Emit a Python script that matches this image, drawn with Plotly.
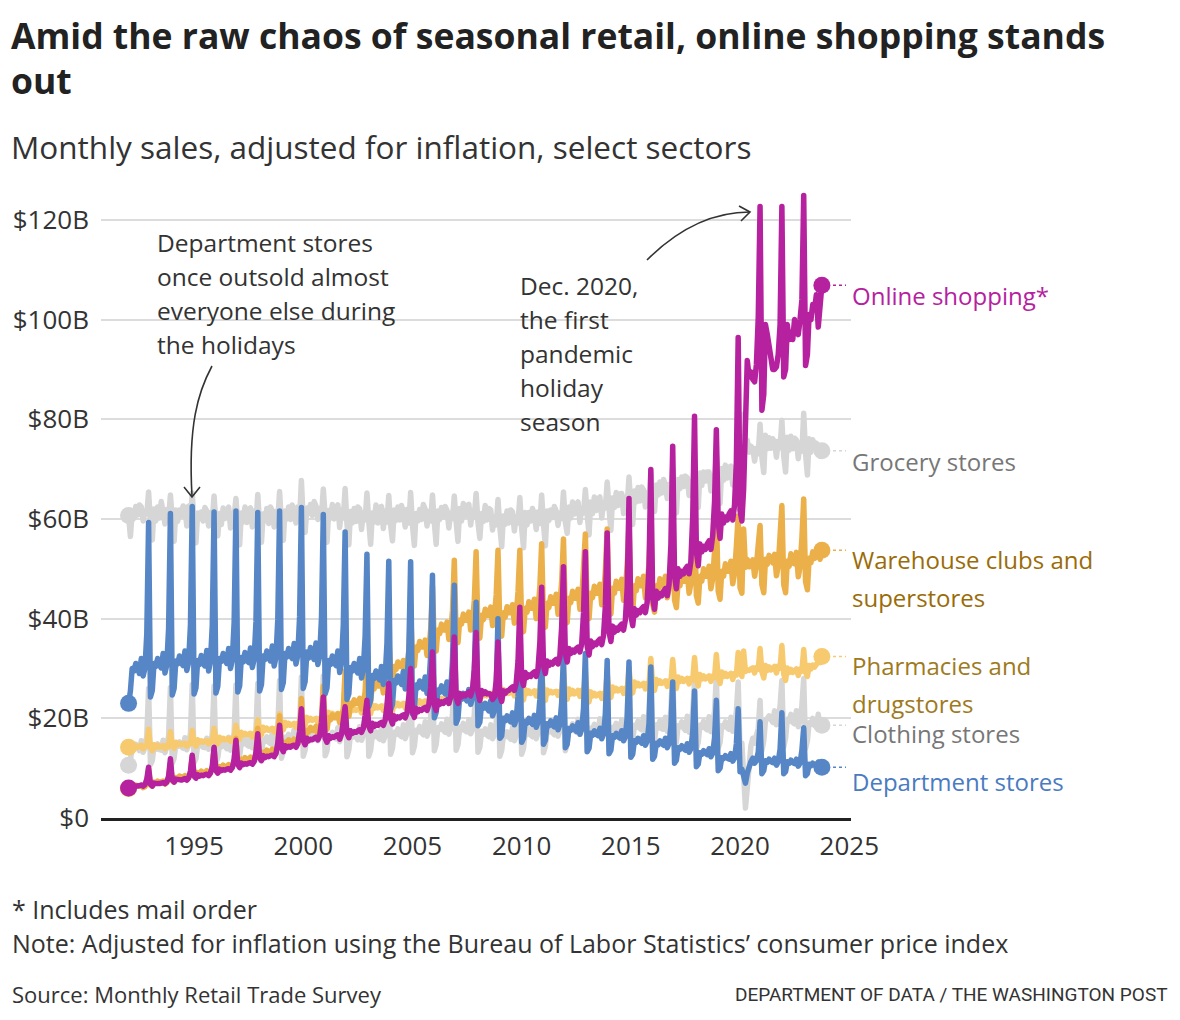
import plotly.graph_objects as go
import pandas as pd

months = pd.date_range("1992-01-01", "2023-10-01", freq="MS")

online = [
 6.0, 5.9, 6.5, 6.3, 6.4, 6.4, 6.5, 6.6, 6.4, 6.7, 7.8, 10.2,
 6.8, 6.4, 7.0, 6.8, 6.9, 6.9, 7.0, 7.1, 6.9, 7.2, 8.4, 11.9,
 7.6, 7.2, 7.8, 7.6, 7.7, 7.6, 7.8, 7.9, 7.6, 8.0, 9.4, 12.6,
 8.4, 8.0, 8.7, 8.4, 8.6, 8.5, 8.7, 8.8, 8.5, 9.0, 10.4, 14.2,
 9.5, 9.0, 9.8, 9.5, 9.7, 9.6, 9.8, 9.9, 9.6, 10.1, 11.8, 15.6,
 10.7, 10.1, 11.0, 10.7, 10.9, 10.8, 11.0, 11.1, 10.8, 11.3, 13.2, 16.9,
 12.1, 11.5, 12.5, 12.1, 12.4, 12.3, 12.5, 12.6, 12.3, 12.9, 15.0, 18.6,
 14.1, 13.3, 14.5, 14.1, 14.4, 14.2, 14.5, 14.6, 14.2, 14.9, 17.4, 21.9,
 15.5, 14.7, 16.0, 15.5, 15.8, 15.7, 16.0, 16.2, 15.7, 16.5, 19.2, 24.3,
 16.0, 15.2, 16.5, 16.0, 16.3, 16.2, 16.5, 16.7, 15.8, 16.8, 19.6, 22.3,
 17.0, 16.1, 17.5, 17.0, 17.3, 17.2, 17.5, 17.7, 17.2, 18.0, 20.6, 23.6,
 18.4, 17.5, 19.0, 18.4, 18.8, 18.6, 19.0, 19.2, 18.6, 19.6, 22.5, 27.0,
 19.9, 18.9, 20.5, 19.9, 20.3, 20.1, 20.5, 20.7, 20.1, 21.1, 24.4, 30.0,
 21.3, 20.2, 22.0, 21.3, 21.8, 21.6, 22.0, 22.2, 21.6, 22.7, 26.2, 33.3,
 22.8, 21.6, 23.5, 22.8, 23.3, 23.0, 23.5, 23.7, 23.0, 24.2, 28.2, 36.3,
 24.3, 23.0, 25.0, 24.3, 24.8, 24.5, 25.0, 25.3, 24.5, 25.8, 29.8, 37.2,
 25.2, 23.6, 25.6, 24.9, 25.3, 24.9, 25.0, 24.8, 23.8, 24.3, 27.5, 35.3,
 24.6, 23.4, 25.5, 25.0, 25.5, 25.6, 26.0, 26.3, 25.6, 27.0, 31.5, 42.3,
 27.9, 26.6, 29.2, 28.2, 28.7, 28.4, 29.0, 29.3, 28.4, 29.9, 35.2, 46.3,
 30.6, 29.0, 31.5, 30.6, 31.2, 30.9, 31.5, 31.8, 30.9, 32.4, 38.4, 50.4,
 33.0, 31.3, 34.0, 33.0, 33.7, 33.3, 34.0, 34.3, 33.3, 35.0, 41.2, 53.4,
 34.4, 32.7, 35.5, 34.4, 35.1, 34.8, 35.5, 35.9, 34.8, 36.6, 42.6, 57.2,
 37.3, 35.4, 38.5, 37.3, 38.1, 37.7, 38.5, 38.9, 37.7, 39.7, 46.2, 64.1,
 40.7, 38.6, 42.0, 40.7, 41.6, 41.2, 42.0, 42.4, 41.2, 43.3, 50.5, 69.9,
 44.1, 41.9, 45.5, 44.1, 45.0, 44.6, 45.5, 46.0, 44.6, 46.9, 54.9, 74.6,
 48.5, 46.0, 50.0, 48.5, 49.5, 49.0, 50.0, 50.5, 49.0, 51.5, 60.5, 80.6,
 53.4, 50.6, 55.0, 53.4, 54.5, 53.9, 55.0, 55.6, 53.9, 56.7, 63.5, 77.9,
 59.2, 56.1, 61.0, 59.2, 60.4, 59.8, 61.0, 61.6, 59.8, 62.8, 71.5, 96.4,
 61.7, 59.6, 66.0, 82.0, 91.8, 88.5, 89.5, 88.0, 87.5, 91.0, 100.5, 122.7,
 81.8, 85.0, 99.0, 97.0, 95.0, 92.0, 90.0, 90.0, 90.5, 93.0, 99.0, 122.7,
 88.5, 90.0, 99.0, 96.0, 97.5, 96.0, 100.0, 98.0, 97.0, 100.0, 104.0, 124.9,
 90.8, 93.0, 101.0, 100.0, 103.0, 102.0, 105.0, 98.5, 104.0, 106.9,
]

grocery = [
 60.7, 56.5, 61.5, 60.2, 62.5, 60.8, 62.8, 62.4, 59.6, 61.6, 61.0, 65.4,
 59.4, 55.8, 62.0, 59.6, 62.4, 60.2, 63.5, 61.6, 59.0, 61.9, 60.1, 64.8,
 59.6, 55.5, 61.8, 59.5, 61.8, 60.6, 62.6, 62.1, 58.6, 62.6, 59.8, 65.2,
 58.8, 55.2, 61.2, 60.1, 61.4, 59.6, 62.3, 61.6, 58.6, 61.3, 59.6, 64.6,
 59.2, 56.6, 61.1, 58.9, 62.2, 60.1, 61.4, 62.4, 58.2, 61.1, 60.5, 64.1,
 58.7, 54.8, 61.2, 59.4, 62.4, 59.3, 61.9, 62.2, 58.4, 61.6, 59.3, 64.9,
 58.9, 55.3, 61.0, 59.6, 62.1, 59.1, 62.4, 61.6, 58.4, 61.5, 59.7, 65.5,
 59.1, 55.7, 61.6, 60.0, 62.4, 59.9, 62.8, 61.5, 59.2, 62.4, 60.1, 67.7,
 59.3, 57.3, 62.2, 61.1, 62.9, 60.7, 63.5, 62.6, 59.9, 62.1, 60.5, 66.0,
 59.6, 55.3, 61.7, 60.2, 62.9, 60.0, 62.3, 62.8, 58.3, 61.9, 60.2, 66.1,
 59.0, 54.8, 61.5, 59.2, 62.1, 59.5, 62.4, 62.0, 57.9, 61.3, 59.8, 65.2,
 59.4, 54.9, 61.2, 59.4, 62.8, 59.2, 62.3, 62.5, 58.1, 61.6, 59.4, 64.7,
 58.7, 55.6, 61.8, 59.7, 62.4, 59.8, 62.7, 61.4, 58.4, 61.9, 59.2, 65.3,
 58.6, 54.7, 61.1, 59.6, 61.9, 59.9, 62.9, 61.9, 58.6, 61.5, 59.6, 64.8,
 59.2, 54.9, 61.6, 59.9, 62.3, 60.4, 62.5, 61.7, 58.2, 61.2, 60.1, 64.6,
 59.4, 55.5, 62.1, 59.6, 63.1, 60.6, 62.6, 62.9, 58.8, 61.7, 60.4, 65.1,
 59.3, 56.1, 61.1, 59.5, 62.7, 59.8, 62.1, 61.8, 57.8, 60.4, 58.8, 63.9,
 58.4, 54.4, 60.6, 58.9, 61.6, 59.2, 61.8, 61.4, 57.6, 60.5, 59.2, 64.3,
 58.1, 54.2, 61.3, 58.8, 61.3, 59.6, 62.1, 60.9, 57.9, 61.4, 59.1, 64.8,
 58.9, 54.6, 61.6, 59.7, 61.8, 60.3, 62.5, 61.6, 58.7, 61.2, 60.1, 65.4,
 59.4, 57.1, 62.4, 60.2, 63.4, 61.0, 62.8, 63.4, 59.3, 62.2, 61.2, 65.9,
 60.9, 56.8, 63.4, 61.1, 64.4, 61.7, 64.1, 64.4, 60.2, 63.3, 62.2, 67.4,
 62.1, 57.7, 64.2, 62.3, 65.3, 62.7, 65.0, 65.1, 61.1, 64.4, 62.9, 68.4,
 62.7, 58.9, 65.6, 63.4, 66.3, 63.6, 66.4, 65.8, 62.4, 65.3, 63.8, 69.2,
 64.2, 61.5, 66.8, 64.8, 67.4, 65.2, 67.9, 66.9, 64.1, 66.9, 65.3, 70.6,
 65.3, 61.2, 67.9, 66.1, 68.4, 66.5, 68.6, 68.3, 64.7, 67.5, 66.4, 71.8,
 66.4, 62.3, 69.2, 66.7, 69.4, 67.6, 69.4, 69.4, 65.6, 68.7, 67.6, 72.9,
 67.6, 63.1, 70.1, 67.8, 70.8, 68.2, 70.4, 70.6, 66.8, 69.6, 68.4, 73.9,
 68.6, 66.9, 81.0, 74.2, 75.8, 73.4, 74.6, 74.1, 71.6, 74.2, 73.1, 79.0,
 72.3, 69.3, 76.8, 74.1, 76.3, 74.2, 76.1, 75.4, 72.4, 75.6, 74.3, 79.8,
 72.6, 69.4, 76.4, 73.8, 76.6, 74.1, 76.2, 75.8, 72.1, 75.3, 73.6, 81.2,
 73.1, 68.8, 76.1, 73.4, 75.9, 74.3, 75.2, 74.6, 72.6, 73.7,
]

warehouse = [
 5.9, 5.7, 6.4, 6.2, 6.6, 6.4, 6.4, 6.6, 6.1, 6.3, 7.0, 9.8,
 6.6, 6.4, 7.2, 7.0, 7.4, 7.2, 7.2, 7.4, 6.8, 7.1, 7.9, 11.0,
 7.5, 7.2, 8.1, 8.0, 8.4, 8.1, 8.1, 8.5, 7.7, 8.1, 9.0, 12.5,
 8.4, 8.1, 9.1, 8.9, 9.4, 9.1, 9.1, 9.5, 8.6, 9.0, 10.0, 14.0,
 9.5, 9.1, 10.3, 10.1, 10.6, 10.3, 10.3, 10.7, 9.8, 10.2, 11.3, 16.0,
 10.8, 10.4, 11.8, 11.5, 12.1, 11.8, 11.8, 12.2, 11.2, 11.6, 13.0, 18.0,
 12.2, 11.7, 13.2, 13.0, 13.6, 13.2, 13.2, 13.8, 12.6, 13.1, 14.6, 20.5,
 14.0, 13.5, 15.2, 14.9, 15.7, 15.2, 15.2, 15.8, 14.4, 15.0, 16.7, 24.0,
 16.2, 15.7, 17.6, 17.3, 18.2, 17.6, 17.6, 18.4, 16.7, 17.5, 19.4, 26.5,
 18.5, 17.8, 20.1, 19.7, 20.7, 20.1, 20.1, 20.9, 19.1, 19.9, 22.1, 29.5,
 21.2, 20.4, 23.0, 22.6, 23.7, 23.0, 23.0, 24.0, 21.9, 22.8, 25.4, 33.0,
 24.3, 23.5, 26.5, 25.9, 27.3, 26.5, 26.5, 27.5, 25.1, 26.2, 29.2, 37.0,
 27.9, 27.0, 30.4, 29.8, 31.3, 30.4, 30.4, 31.6, 28.8, 30.1, 33.5, 41.5,
 31.5, 30.5, 34.3, 33.6, 35.4, 34.3, 34.3, 35.7, 32.6, 34.0, 37.8, 46.5,
 34.7, 33.5, 37.7, 37.0, 38.9, 37.7, 37.7, 39.3, 35.8, 37.3, 41.6, 51.7,
 36.5, 35.2, 39.7, 38.9, 40.9, 39.7, 39.7, 41.3, 37.7, 39.3, 43.7, 53.4,
 37.4, 36.1, 40.7, 39.8, 41.9, 40.7, 40.7, 42.3, 38.6, 40.3, 44.8, 53.7,
 37.8, 36.5, 41.2, 40.3, 42.4, 41.2, 41.2, 42.8, 39.1, 40.7, 45.4, 53.7,
 38.7, 37.4, 42.1, 41.3, 43.4, 42.1, 42.1, 43.9, 40.0, 41.7, 46.4, 55.0,
 39.6, 38.3, 43.1, 42.2, 44.4, 43.1, 43.1, 44.9, 40.9, 42.7, 47.5, 56.0,
 40.5, 39.2, 44.1, 43.2, 45.5, 44.1, 44.1, 45.9, 41.9, 43.7, 48.6, 57.0,
 41.4, 40.0, 45.1, 44.2, 46.5, 45.1, 45.1, 46.9, 42.8, 44.6, 49.7, 58.0,
 42.3, 40.9, 46.1, 45.1, 47.5, 46.1, 46.1, 47.9, 43.7, 45.6, 50.8, 59.0,
 42.8, 41.3, 46.6, 45.6, 48.0, 46.6, 46.6, 48.5, 44.2, 46.1, 51.3, 59.8,
 42.8, 41.3, 46.6, 45.6, 48.0, 46.6, 46.6, 48.5, 44.2, 46.1, 51.3, 59.6,
 43.7, 42.2, 47.5, 46.6, 49.0, 47.5, 47.5, 49.5, 45.1, 47.0, 52.4, 60.5,
 44.6, 43.1, 48.5, 47.5, 50.0, 48.5, 48.5, 50.5, 46.0, 48.0, 53.5, 61.2,
 45.5, 43.9, 49.5, 48.5, 51.0, 49.5, 49.5, 51.5, 47.0, 49.0, 54.5, 60.6,
 46.2, 45.1, 58.0, 50.3, 51.9, 50.4, 50.6, 51.8, 48.5, 50.6, 54.9, 58.7,
 46.8, 45.2, 51.9, 50.9, 52.7, 51.5, 51.2, 52.9, 48.6, 50.6, 56.2, 62.7,
 46.8, 45.2, 51.5, 50.5, 53.0, 51.2, 51.0, 53.3, 48.4, 50.4, 56.2, 64.0,
 47.4, 45.8, 52.1, 51.2, 53.4, 52.1, 52.4, 53.8, 51.9, 53.7,
]

pharmacies = [
 14.2, 13.5, 14.7, 14.2, 14.5, 14.2, 14.4, 14.6, 13.9, 14.5, 14.4, 17.8,
 14.1, 13.5, 14.7, 14.2, 14.6, 14.2, 14.4, 14.5, 13.9, 14.6, 14.3, 17.3,
 14.5, 14.0, 15.2, 14.7, 15.0, 14.7, 14.9, 15.0, 14.4, 15.0, 14.9, 17.6,
 15.0, 14.4, 15.7, 15.2, 15.5, 15.2, 15.4, 15.5, 14.9, 15.5, 15.3, 18.0,
 15.5, 14.9, 16.2, 15.7, 16.0, 15.7, 15.8, 16.0, 15.4, 16.0, 15.8, 18.6,
 16.5, 15.8, 17.2, 16.7, 17.0, 16.7, 16.8, 17.0, 16.3, 17.0, 16.8, 19.7,
 17.5, 16.7, 18.2, 17.6, 18.0, 17.6, 17.8, 18.0, 17.3, 18.0, 17.8, 20.9,
 18.4, 17.7, 19.2, 18.6, 19.0, 18.6, 18.8, 19.0, 18.2, 19.0, 18.8, 22.0,
 19.4, 18.6, 20.2, 19.6, 20.0, 19.6, 19.8, 20.0, 19.2, 20.0, 19.8, 23.2,
 20.4, 19.5, 21.2, 20.6, 21.0, 20.6, 20.8, 21.0, 20.2, 21.0, 20.8, 24.3,
 21.3, 20.5, 22.2, 21.6, 22.0, 21.6, 21.8, 22.0, 21.1, 22.0, 21.8, 25.4,
 21.8, 20.9, 22.7, 22.0, 22.5, 22.1, 22.3, 22.5, 21.6, 22.5, 22.3, 26.0,
 22.3, 21.4, 23.2, 22.5, 23.0, 22.5, 22.8, 23.0, 22.1, 23.0, 22.8, 26.6,
 22.8, 21.9, 23.7, 23.0, 23.5, 23.0, 23.3, 23.5, 22.6, 23.5, 23.3, 27.2,
 23.3, 22.3, 24.2, 23.5, 24.0, 23.5, 23.8, 24.0, 23.0, 24.0, 23.8, 27.8,
 23.8, 22.8, 24.7, 24.0, 24.5, 24.0, 24.3, 24.5, 23.5, 24.5, 24.3, 28.4,
 24.3, 23.3, 25.3, 24.5, 25.0, 24.5, 24.8, 25.0, 24.0, 25.0, 24.8, 28.6,
 24.7, 23.7, 25.8, 25.0, 25.5, 25.0, 25.2, 25.5, 24.5, 25.5, 25.2, 29.3,
 24.7, 23.7, 25.8, 25.0, 25.5, 25.0, 25.2, 25.5, 24.5, 25.5, 25.2, 29.5,
 24.8, 23.6, 25.7, 25.1, 25.4, 25.1, 25.3, 25.4, 24.6, 25.4, 25.3, 29.6,
 24.6, 23.8, 25.9, 24.9, 25.6, 24.9, 25.1, 25.6, 24.4, 25.6, 25.1, 29.2,
 24.3, 23.3, 25.3, 24.5, 25.0, 24.5, 24.8, 25.0, 24.0, 25.0, 24.8, 29.0,
 25.2, 24.2, 26.3, 25.5, 26.0, 25.5, 25.7, 26.0, 25.0, 26.0, 25.7, 30.2,
 26.2, 25.1, 27.3, 26.5, 27.0, 26.5, 26.7, 27.0, 25.9, 27.0, 26.7, 32.0,
 26.7, 25.6, 27.8, 27.0, 27.5, 27.0, 27.2, 27.5, 26.4, 27.5, 27.2, 31.8,
 27.2, 26.0, 28.3, 27.4, 28.0, 27.4, 27.7, 28.0, 26.9, 28.0, 27.7, 32.2,
 27.6, 26.5, 28.8, 27.9, 28.5, 27.9, 28.2, 28.5, 27.4, 28.5, 28.2, 32.8,
 28.1, 27.0, 29.3, 28.4, 29.0, 28.4, 28.7, 29.0, 27.8, 29.0, 28.7, 33.2,
 29.2, 28.4, 33.5, 29.4, 29.7, 29.6, 29.9, 30.1, 29.1, 30.2, 29.9, 34.0,
 29.3, 28.1, 30.6, 29.6, 30.3, 29.7, 30.0, 30.4, 29.1, 30.5, 30.1, 34.6,
 28.9, 27.6, 30.1, 29.2, 29.8, 29.2, 29.5, 29.9, 28.6, 29.9, 29.5, 33.8,
 29.2, 28.4, 30.6, 29.9, 30.7, 30.3, 30.8, 31.4, 31.2, 32.4,
]

clothing = [
 10.6, 11.6, 14.2, 13.9, 14.8, 13.8, 13.5, 15.5, 13.2, 14.1, 16.4, 26.0,
 10.7, 11.5, 14.3, 13.8, 14.9, 13.7, 13.6, 15.6, 13.1, 14.2, 16.5, 26.2,
 11.0, 12.0, 14.7, 14.4, 15.3, 14.3, 14.0, 16.1, 13.7, 14.6, 17.0, 26.8,
 11.1, 11.9, 14.6, 14.5, 15.2, 14.2, 14.1, 16.0, 13.8, 14.5, 16.9, 26.5,
 11.0, 12.1, 14.8, 14.3, 15.4, 14.4, 13.9, 16.2, 13.6, 14.7, 17.1, 26.7,
 11.3, 12.4, 15.2, 14.9, 15.8, 14.7, 14.4, 16.6, 14.1, 15.0, 17.5, 27.0,
 11.7, 12.8, 15.7, 15.4, 16.3, 15.2, 14.9, 17.1, 14.6, 15.5, 18.1, 27.6,
 12.0, 13.2, 16.2, 15.8, 16.8, 15.7, 15.3, 17.7, 15.0, 16.0, 18.6, 28.3,
 12.4, 13.6, 16.7, 16.3, 17.3, 16.2, 15.8, 18.2, 15.5, 16.5, 19.2, 28.5,
 12.5, 13.5, 16.6, 16.4, 17.2, 16.1, 15.9, 18.1, 15.3, 16.4, 19.1, 28.0,
 12.3, 13.7, 16.8, 16.2, 17.4, 16.3, 15.7, 18.3, 15.6, 16.6, 19.3, 27.8,
 12.4, 13.6, 16.7, 16.3, 17.3, 16.2, 15.8, 18.2, 15.5, 16.5, 19.2, 28.0,
 12.8, 14.0, 17.2, 16.8, 17.9, 16.6, 16.3, 18.7, 15.9, 17.0, 19.8, 28.7,
 13.1, 14.4, 17.6, 17.3, 18.4, 17.1, 16.7, 19.3, 16.4, 17.5, 20.3, 29.4,
 13.5, 14.8, 18.1, 17.8, 18.9, 17.6, 17.2, 19.8, 16.8, 17.9, 20.9, 30.0,
 13.6, 14.7, 18.2, 17.7, 19.0, 17.5, 17.3, 19.7, 16.9, 17.8, 20.8, 29.6,
 13.2, 14.2, 17.4, 16.8, 17.9, 16.6, 16.3, 18.7, 15.9, 16.6, 19.1, 27.6,
 12.4, 13.6, 16.7, 16.3, 17.3, 16.2, 15.8, 18.2, 15.5, 16.5, 19.2, 27.7,
 12.8, 14.0, 17.2, 16.8, 17.9, 16.6, 16.3, 18.7, 15.9, 17.0, 19.8, 28.4,
 13.1, 14.4, 17.6, 17.3, 18.4, 17.1, 16.7, 19.3, 16.4, 17.5, 20.3, 29.0,
 13.5, 14.8, 18.1, 17.8, 18.9, 17.6, 17.2, 19.8, 16.8, 17.9, 20.9, 29.7,
 13.4, 14.9, 18.0, 17.9, 18.8, 17.7, 17.1, 19.9, 16.7, 18.0, 20.8, 29.9,
 13.6, 14.7, 18.2, 17.7, 19.0, 17.5, 17.3, 19.7, 16.9, 17.8, 21.0, 30.0,
 13.9, 15.2, 18.6, 18.2, 19.4, 18.0, 17.7, 20.3, 17.3, 18.4, 21.5, 30.4,
 14.0, 15.1, 18.7, 18.1, 19.5, 17.9, 17.8, 20.2, 17.4, 18.3, 21.6, 30.6,
 13.8, 15.3, 18.5, 18.3, 19.3, 18.1, 17.6, 20.4, 17.2, 18.5, 21.4, 27.3,
 13.9, 15.2, 18.6, 18.2, 19.4, 18.0, 17.7, 20.3, 17.3, 18.4, 21.5, 28.3,
 14.0, 15.1, 18.5, 18.3, 19.3, 18.1, 17.8, 20.2, 17.4, 18.3, 21.4, 27.3,
 13.5, 15.0, 9.0, 2.0, 6.0, 12.0, 14.5, 16.0, 15.0, 16.5, 18.0, 23.6,
 13.5, 15.5, 19.5, 20.0, 20.5, 19.8, 19.2, 21.5, 18.7, 20.0, 22.5, 27.6,
 14.2, 16.0, 19.8, 19.4, 20.8, 19.2, 18.9, 21.5, 18.3, 19.6, 22.6, 28.0,
 13.9, 15.5, 19.1, 18.8, 20.0, 18.6, 18.3, 20.8, 17.9, 18.6,
]

department = [
 23.0, 25.5, 30.0, 29.5, 31.0, 30.0, 29.0, 32.0, 28.5, 30.0, 37.0, 59.3,
 24.3, 25.6, 31.0, 30.4, 32.0, 30.7, 30.1, 33.0, 29.1, 30.7, 38.1, 61.1,
 24.7, 26.0, 31.5, 30.9, 32.5, 31.2, 30.6, 33.5, 29.6, 31.2, 38.7, 62.5,
 24.9, 26.1, 31.6, 30.8, 32.6, 31.1, 30.5, 33.6, 29.5, 31.3, 38.6, 61.4,
 25.1, 26.4, 32.0, 31.4, 33.0, 31.7, 31.0, 34.0, 30.0, 31.7, 39.3, 61.6,
 25.3, 26.5, 32.2, 31.3, 33.2, 31.6, 31.2, 34.1, 30.2, 31.8, 39.4, 61.3,
 25.5, 26.8, 32.5, 31.8, 33.5, 32.2, 31.5, 34.5, 30.5, 32.2, 39.9, 61.6,
 25.8, 27.2, 33.0, 32.3, 34.0, 32.6, 32.0, 35.0, 30.9, 32.6, 40.5, 62.3,
 26.0, 27.4, 33.3, 32.1, 34.2, 32.5, 31.8, 35.1, 30.8, 32.4, 40.2, 60.9,
 24.9, 26.1, 31.6, 30.8, 32.5, 31.1, 30.6, 33.5, 29.2, 31.2, 38.9, 57.4,
 23.8, 24.9, 30.2, 29.5, 31.0, 29.7, 29.1, 32.0, 28.1, 29.8, 36.6, 52.9,
 22.4, 23.6, 28.6, 28.0, 29.5, 28.3, 27.7, 30.4, 26.8, 28.3, 35.1, 51.5,
 21.7, 22.8, 27.6, 27.1, 28.5, 27.4, 26.8, 29.4, 25.9, 27.4, 33.9, 51.4,
 20.9, 22.0, 26.7, 26.1, 27.5, 26.4, 25.9, 28.3, 25.0, 26.4, 32.7, 48.7,
 20.1, 21.2, 25.7, 25.2, 26.5, 25.4, 24.9, 27.3, 24.1, 25.4, 31.5, 46.7,
 19.0, 20.0, 24.3, 23.8, 25.0, 24.0, 23.5, 25.8, 22.8, 24.0, 29.8, 43.3,
 18.5, 19.2, 22.8, 22.0, 23.0, 22.0, 21.5, 23.5, 20.5, 21.5, 26.0, 40.0,
 16.0, 16.5, 20.0, 19.5, 20.5, 19.7, 19.3, 21.1, 18.7, 19.7, 24.4, 36.0,
 15.2, 16.0, 19.4, 19.0, 20.0, 19.2, 18.8, 20.6, 18.2, 19.2, 23.8, 33.3,
 14.8, 15.6, 18.9, 18.5, 19.5, 18.7, 18.3, 20.1, 17.7, 18.7, 23.2, 32.6,
 14.1, 14.8, 17.9, 17.6, 18.5, 17.8, 17.4, 19.1, 16.8, 17.8, 22.0, 33.0,
 13.3, 14.0, 17.0, 16.6, 17.5, 16.8, 16.5, 18.0, 15.9, 16.8, 20.8, 31.6,
 12.9, 13.6, 16.5, 16.2, 17.0, 16.3, 16.0, 17.5, 15.5, 16.3, 20.2, 31.3,
 12.2, 12.8, 15.5, 15.2, 16.0, 15.4, 15.0, 16.5, 14.6, 15.4, 19.0, 30.3,
 11.8, 12.4, 15.0, 14.7, 15.5, 14.9, 14.6, 16.0, 14.1, 14.9, 18.4, 27.3,
 11.0, 11.6, 14.1, 13.8, 14.5, 13.9, 13.6, 14.9, 13.2, 13.9, 17.3, 25.5,
 10.3, 10.8, 13.1, 12.8, 13.5, 13.0, 12.7, 13.9, 12.3, 13.0, 16.1, 23.6,
 9.5, 10.0, 12.1, 11.9, 12.5, 12.0, 11.8, 12.9, 11.4, 12.0, 14.9, 21.9,
 9.3, 9.8, 8.2, 7.0, 9.0, 10.8, 11.3, 12.0, 11.0, 11.5, 13.2, 19.3,
 8.9, 9.5, 11.5, 11.2, 11.8, 11.3, 11.1, 12.0, 10.6, 11.3, 13.8, 21.1,
 8.9, 9.3, 11.3, 11.0, 11.6, 11.1, 10.9, 11.8, 10.4, 11.0, 13.6, 18.1,
 8.5, 8.9, 10.8, 10.5, 11.0, 10.6, 10.4, 11.2, 10.0, 10.2,
]

y_ticks = [0, 20, 40, 60, 80, 100, 120]
y_tick_text = ["$0", "$20B", "$40B", "$60B", "$80B", "$100B", "$120B"]
x_tick_years = [1995, 2000, 2005, 2010, 2015, 2020, 2025]

BODY = "Open Sans"
HEAD = "Roboto"
W, H = 1180, 1020
L, R, T, B = 101, 329, 190, 202
PW, PH = W - L - R, H - T - B


def px(x):
    return (x - L) / PW


def py(y):
    return (H - B - y) / PH


series = [
    ("Clothing stores", clothing, "#d6d6d6", [("Clothing stores", 733)], "#777777"),
    ("Grocery stores", grocery, "#d6d6d6", [("Grocery stores", 461)], "#777777"),
    ("Pharmacies and drugstores", pharmacies, "#f8ca6f",
     [("Pharmacies and", 665), ("drugstores", 703)], "#9e7a1d"),
    ("Warehouse clubs and superstores", warehouse, "#ebb04a",
     [("Warehouse clubs and", 559), ("superstores", 597)], "#9a6c08"),
    ("Department stores", department, "#5686c6", [("Department stores", 781)], "#4a7bc1"),
    ("Online shopping*", online, "#b5219e", [("Online shopping*", 295)], "#b5219e"),
]

fig = go.Figure()

for name, vals, color, lab, lcolor in series:
    fig.add_trace(go.Scatter(
        x=months, y=vals, mode="lines", name=name,
        line=dict(color=color, width=5.5), hoverinfo="skip"))
    fig.add_trace(go.Scatter(
        x=[months[0], months[-1]], y=[vals[0], vals[-1]], mode="markers",
        marker=dict(color=color, size=17), hoverinfo="skip"))
    fig.add_shape(type="line", xref="paper", yref="y",
                  x0=px(833), x1=px(846), y0=vals[-1], y1=vals[-1],
                  line=dict(color=color, width=1.5, dash="3px,3px"))
    for txt, ypix in lab:
        fig.add_annotation(x=px(850), y=py(ypix), xref="paper", yref="paper",
                           text=txt, showarrow=False, xanchor="left", yanchor="middle",
                           font=dict(family=BODY, size=24, color=lcolor))


def text(x, y, s, size=24, color="#333333", family=BODY, anchor="left", weight=None):
    f = dict(family=family, size=size, color=color)
    if weight:
        f["weight"] = weight
    fig.add_annotation(x=px(x), y=py(y), xref="paper", yref="paper", text=s,
                       showarrow=False, xanchor=anchor, yanchor="middle", font=f)


# Title and subtitle
text(9, 35, "Amid the raw chaos of seasonal retail, online shopping stands",
     size=35.5, color="#222222", family=BODY, weight=700)
text(9, 80, "out", size=35.5, color="#222222", family=BODY, weight=700)
text(9, 146, "Monthly sales, adjusted for inflation, select sectors",
     size=31.5, color="#333333", family=BODY, weight=400)

# In-chart notes
for i, line in enumerate(["Department stores", "once outsold almost",
                          "everyone else during", "the holidays"]):
    text(155, 242 + 34 * i, line, size=24.5)
for i, line in enumerate(["Dec. 2020,", "the first", "pandemic", "holiday", "season"]):
    text(518, 285 + 34 * i, line, size=24.5)


def path_px(cmds):
    out = []
    for c in cmds:
        if isinstance(c, str):
            out.append(c)
        else:
            out.append(f"{px(c[0]):.5f},{py(c[1]):.5f}")
    return " ".join(out)


arrow_style = dict(color="#333333", width=1.6)
fig.add_shape(type="path", xref="paper", yref="paper",
              path=path_px(["M", (212, 366), "C", (198, 392), (188, 425), (192, 496)]),
              line=arrow_style)
fig.add_shape(type="path", xref="paper", yref="paper",
              path=path_px(["M", (184, 487), "L", (192, 497), "L", (200, 487)]),
              line=arrow_style)
fig.add_shape(type="path", xref="paper", yref="paper",
              path=path_px(["M", (647, 260), "Q", (695, 212), (750, 212)]),
              line=arrow_style)
fig.add_shape(type="path", xref="paper", yref="paper",
              path=path_px(["M", (739, 206), "L", (750, 212), "L", (741, 221)]),
              line=arrow_style)

# Footer
text(10, 909, "* Includes mail order", size=25)
text(10, 943, "Note: Adjusted for inflation using the Bureau of Labor Statistics\u2019 consumer price index", size=25)
text(10, 994, "Source: Monthly Retail Trade Survey", size=22)
text(1170, 994, "DEPARTMENT OF DATA / THE WASHINGTON POST", size=19, family=HEAD, anchor="right")

fig.update_layout(
    width=W, height=H,
    margin=dict(l=L, r=R, t=T, b=B),
    paper_bgcolor="white", plot_bgcolor="white",
    showlegend=False,
    xaxis=dict(
        type="date",
        range=["1990-09-27", "2025-01-30"],
        tickvals=[pd.Timestamp(f"{y}-01-01") for y in x_tick_years],
        ticktext=[str(y) for y in x_tick_years],
        showgrid=False, zeroline=False, ticks="",
        showline=True, linecolor="#222222", linewidth=3,
        tickfont=dict(family=BODY, size=26, color="#333333"),
        ticklabelstandoff=3,
    ),
    yaxis=dict(
        range=[0, 126],
        tickvals=y_ticks, ticktext=y_tick_text,
        showgrid=True, gridcolor="#dcdcdc", gridwidth=2,
        zeroline=False, ticks="", showline=False,
        tickfont=dict(family=BODY, size=26, color="#333333"),
        ticklabelstandoff=11,
    ),
)

fig.write_html(
    "out.html",
    post_script="document.querySelectorAll('.js-line').forEach(function(p){p.style.strokeLinejoin='round';p.style.strokeLinecap='round';});",
)
